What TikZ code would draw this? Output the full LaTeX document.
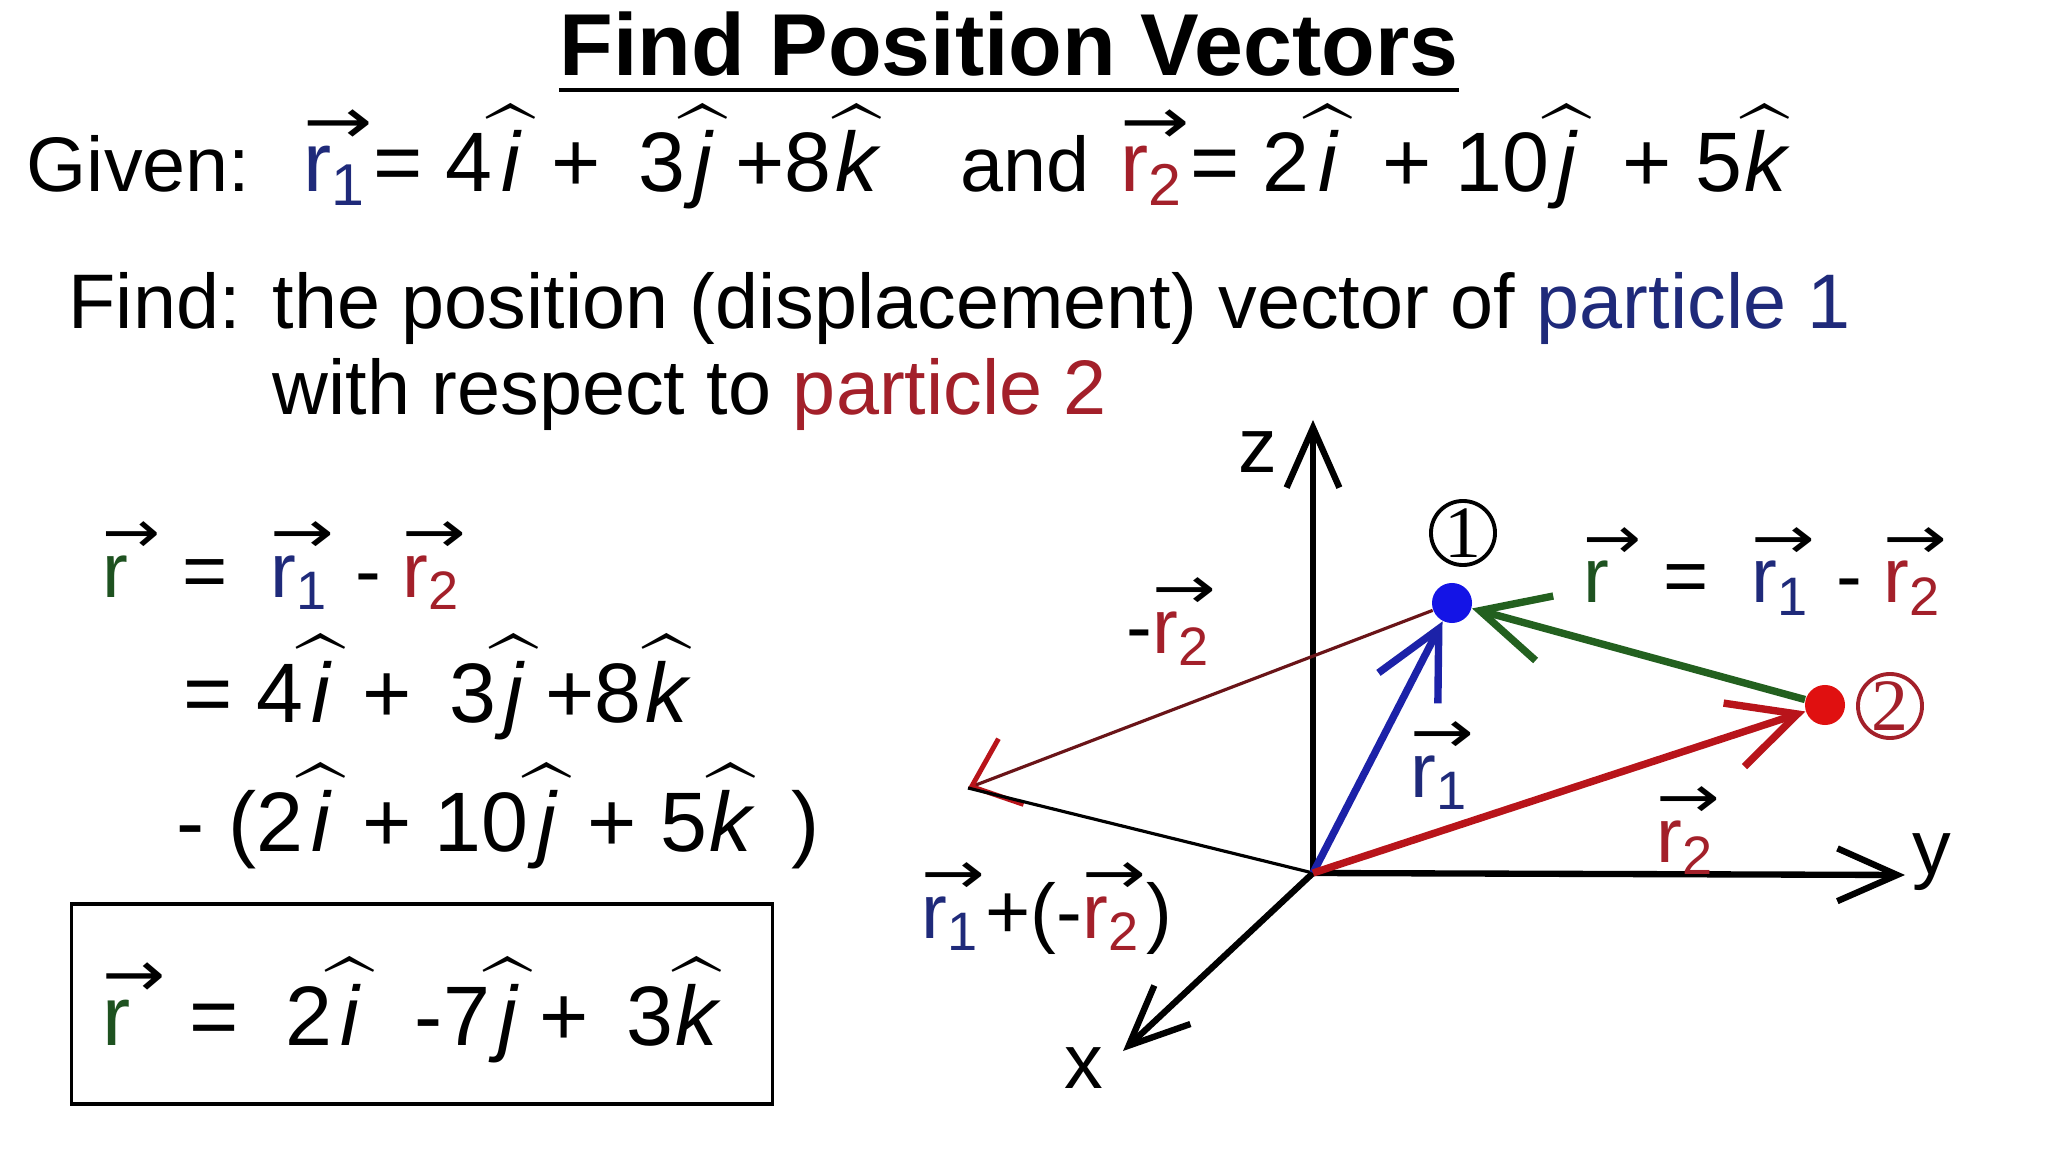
\documentclass[tikz,border=0pt]{standalone}
\usepackage{amsmath}
\usepackage{fontspec}
\setmainfont{Liberation Sans}
\newfontfamily\serifnum{Liberation Serif}
\newfontfamily\arrowfont{DejaVu Sans}
\usepackage{tikz}
\usetikzlibrary{arrows.meta}
\usepackage{color}
\definecolor{txt-blue}{HTML}{1F2A7A}
\definecolor{txt-red}{HTML}{A3202A}
\definecolor{txt-green}{HTML}{1E5220}
\definecolor{arr-blue}{HTML}{1C22A8}
\definecolor{arr-red}{HTML}{B8141A}
\definecolor{arr-green}{HTML}{23601F}
\definecolor{dot-blue}{HTML}{1414E6}
\definecolor{dot-red}{HTML}{E01010}
\definecolor{thin-red}{HTML}{6A1418}

\newlength\arrwd
\newcommand{\unitv}[2][0.42em]{\makebox[#1][c]{$\widehat{\text{\itshape #2}}$}}
\newcommand{\arrowover}[1]{\settowidth{\arrwd}{#1}\addtolength{\arrwd}{0.08em}%
  \ifdim\arrwd<0.75em\setlength{\arrwd}{0.75em}\fi
  \makebox[0pt][l]{\raisebox{0.57em}{\resizebox{\arrwd}{0.4em}{\arrowfont →}}}\makebox[\arrwd][l]{#1}}
\newcommand{\rsub}[2]{\arrowover{\textcolor{#1}{$\text{r}_{\text{#2}}$}}}
\newcommand{\rbare}{\arrowover{\textcolor{txt-green}{r}}}

\tikzset{
  eqtext/.style={anchor=base west, inner sep=0pt, font=\fontsize{22}{26}\selectfont},
  hateq/.style={anchor=base west, inner sep=0pt, font=\fontsize{24}{28}\selectfont},
  axislabel/.style={inner sep=0pt, font=\fontsize{22}{26}\selectfont},
  axisline/.style={line width=1.8pt, -{Straight Barb[length=17pt,width=15pt]}},
  vecline/.style={line width=2.1pt, -{Straight Barb[length=19pt,width=19pt]}},
  thinline/.style={line width=0.9pt},
  dotnode/.style={circle, inner sep=0pt, minimum size=0.4cm},
  circnum/.style={circle, draw, line width=1.1pt, inner sep=0pt, minimum size=0.64cm,
    font=\serifnum\fontsize{21}{21}\selectfont}
}

\begin{document}
\begin{tikzpicture}[x=0.01cm, y=-0.01cm]
			\useasboundingbox[fill=white] (0,0) rectangle (2048,1152);

			% heading and text
			\node[anchor=base, inner sep=0pt, font=\bfseries\fontsize{25}{30}\selectfont] (title) at (1009,76) {Find Position Vectors};
			\draw[line width=1.3pt] ([yshift=-4pt]title.base west) -- ([yshift=-4pt]title.base east);
			\node[eqtext] (given) at (26,192) {Given:};
			\node[hateq] (given1) at (303,192) {\rsub{txt-blue}{1}=\ 4\unitv{i}\ +\ \,3\unitv{j}\,+8\unitv[0.6em]{k}};
			\node[eqtext] (andword) at (960,192) {and};
			\node[hateq] (given2) at (1120,192) {\rsub{txt-red}{2}=\ 2\unitv{i}\ \,+\ 10\unitv{j}\ \,+\ 5\unitv[0.55em]{k}};
			\node[eqtext] (find) at (68,329) {Find:};
			\node[eqtext] (find1) at (272,329) {the position (displacement) vector of \textcolor{txt-blue}{particle 1}};
			\node[eqtext] (find2) at (272,415) {with respect to \textcolor{txt-red}{particle 2}};

			% working
			\node[eqtext] (eqa) at (102,597) {\rbare{} =\ \ \rsub{txt-blue}{1} - \rsub{txt-red}{2}};
			\node[hateq] (eqb) at (183,722) {=\ 4\unitv{i}\ +\ \,3\unitv{j}\,+8\unitv[0.6em]{k}};
			\node[hateq] (eqc) at (176,851) {-\ (2\unitv{i}\ +\ 10\unitv{j}\ +\ 5\unitv[0.55em]{k}\ \,)};
			\node[draw, line width=0.9pt, minimum width=7.01cm, minimum height=2cm] (resbox) at (422,1004) {};
			\node[hateq] (eqd) at (102,1045) {\rbare{} =\ \ 2\unitv{i}\ \ -7\unitv{j}\,+\ \,3\unitv[0.55em]{k}};

			% axes
			\coordinate (o) at (1313,873);
			\coordinate (zend) at (1313,420);
			\coordinate (yend) at (1905,875);
			\coordinate (xend) at (1123,1051);
			\coordinate (tipm) at (968,788);
			\draw[axisline] (o) -- (zend);
			\draw[axisline] (o) -- (yend);
			\draw[axisline] (o) -- (xend);
			\node[axislabel] (zlab) at (1258,452) {z};
			\node[axislabel] (ylab) at (1932,862) {y};
			\node[axislabel] (xlab) at (1084,1068) {x};

			% particles
			\node[dotnode, fill=dot-blue] (p1) at (1452,603) {};
			\node[dotnode, fill=dot-red] (p2) at (1825,705) {};
			\node[circnum] (num1) at (1463,533) {1};
			\node[circnum, draw=txt-red, text=txt-red] (num2) at (1890,706) {2};

			% vectors
			\draw[thinline, thin-red, -{Straight Barb[length=12pt,width=20pt,line width=1.4pt,color=arr-red]}] (p1) -- (tipm);
			\draw[thinline] (o) -- (tipm);
			\draw[vecline, arr-blue] (o) -- (p1);
			\draw[vecline, arr-red] (o) -- (p2);
			\draw[vecline, arr-green] (p2) -- (p1);

			% labels
			\node[eqtext] (labm) at (1126,653) {-\rsub{txt-red}{2}};
			\node[eqtext] (lab1) at (1410,797) {\rsub{txt-blue}{1}};
			\node[eqtext] (lab2) at (1656,862) {\rsub{txt-red}{2}};
			\node[eqtext] (labsum) at (921,938) {\rsub{txt-blue}{1}+(-\rsub{txt-red}{2})};
			\node[eqtext] (labr) at (1583,603) {\rbare{} =\ \ \rsub{txt-blue}{1} - \rsub{txt-red}{2}};
\end{tikzpicture}
\end{document}
